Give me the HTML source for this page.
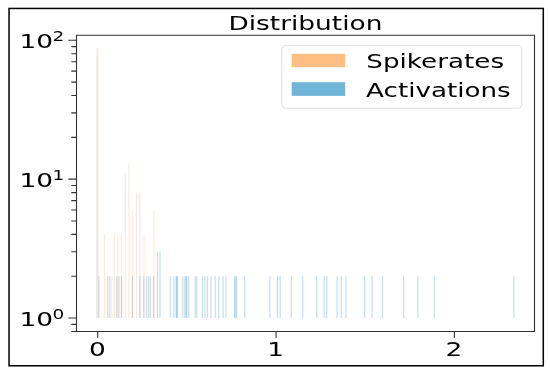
<!DOCTYPE html>
<html><head><meta charset="utf-8"><style>
html,body{margin:0;padding:0;background:#fff;}
svg{display:block;}
text{font-family:"DejaVu Sans","Liberation Sans",sans-serif;fill:#000;}
</style></head><body>
<svg width="550" height="374" viewBox="0 0 550 374">
<rect x="9.05" y="8.45" width="534.25" height="357.3" fill="none" stroke="#000" stroke-width="1.5"/>
<rect x="96.30" y="48.01" width="2.0" height="269.99" fill="rgb(240,195,140)" fill-opacity="0.3"/>
<rect x="96.3" y="55.28" width="2.0" height="262.72" fill="rgb(232,232,232)"/>
<rect x="111.20" y="276.20" width="1.2" height="41.80" fill="rgb(240,195,140)" fill-opacity="0.3"/>
<rect x="104.00" y="234.40" width="1.2" height="83.60" fill="rgb(245,190,140)" fill-opacity="0.3"/>
<rect x="113.80" y="234.40" width="1.2" height="83.60" fill="rgb(245,190,140)" fill-opacity="0.3"/>
<rect x="117.30" y="234.40" width="1.2" height="83.60" fill="rgb(245,190,140)" fill-opacity="0.3"/>
<rect x="120.80" y="234.40" width="1.2" height="83.60" fill="rgb(245,190,140)" fill-opacity="0.3"/>
<rect x="124.70" y="173.40" width="1.2" height="144.60" fill="rgb(245,190,140)" fill-opacity="0.3"/>
<rect x="128.30" y="163.33" width="1.2" height="154.67" fill="rgb(245,190,140)" fill-opacity="0.3"/>
<rect x="131.70" y="209.95" width="1.2" height="108.05" fill="rgb(245,190,140)" fill-opacity="0.3"/>
<rect x="135.90" y="192.61" width="1.2" height="125.39" fill="rgb(235,175,160)" fill-opacity="0.3"/>
<rect x="139.20" y="192.61" width="1.2" height="125.39" fill="rgb(235,175,160)" fill-opacity="0.3"/>
<rect x="143.40" y="234.40" width="1.2" height="83.60" fill="rgb(245,190,140)" fill-opacity="0.3"/>
<rect x="153.40" y="209.95" width="1.2" height="108.05" fill="rgb(245,190,140)" fill-opacity="0.3"/>
<rect x="98.20" y="276.20" width="1.2" height="41.80" fill="rgb(110,140,160)" fill-opacity="0.3"/>
<rect x="107.20" y="276.20" width="1.2" height="41.80" fill="rgb(110,140,160)" fill-opacity="0.3"/>
<rect x="109.20" y="276.20" width="1.2" height="41.80" fill="rgb(110,140,160)" fill-opacity="0.3"/>
<rect x="116.10" y="276.20" width="1.2" height="41.80" fill="rgb(110,140,160)" fill-opacity="0.3"/>
<rect x="118.30" y="276.20" width="1.2" height="41.80" fill="rgb(110,140,160)" fill-opacity="0.3"/>
<rect x="120.90" y="276.20" width="1.2" height="41.80" fill="rgb(110,140,160)" fill-opacity="0.3"/>
<rect x="132.00" y="276.20" width="1.2" height="41.80" fill="rgb(110,140,160)" fill-opacity="0.3"/>
<rect x="139.40" y="276.20" width="1.2" height="41.80" fill="rgb(110,140,160)" fill-opacity="0.3"/>
<rect x="143.20" y="276.20" width="1.2" height="41.80" fill="rgb(110,140,160)" fill-opacity="0.3"/>
<rect x="145.90" y="276.20" width="1.2" height="41.80" fill="rgb(110,140,160)" fill-opacity="0.3"/>
<rect x="147.90" y="276.20" width="1.2" height="41.80" fill="rgb(110,140,160)" fill-opacity="0.3"/>
<rect x="149.70" y="276.20" width="1.2" height="41.80" fill="rgb(110,140,160)" fill-opacity="0.3"/>
<rect x="152.90" y="276.20" width="1.2" height="41.80" fill="rgb(110,140,160)" fill-opacity="0.3"/>
<rect x="169.70" y="276.20" width="1.2" height="41.80" fill="rgb(65,145,195)" fill-opacity="0.3"/>
<rect x="173.30" y="276.20" width="1.2" height="41.80" fill="rgb(65,145,195)" fill-opacity="0.3"/>
<rect x="175.60" y="276.20" width="1.2" height="41.80" fill="rgb(65,145,195)" fill-opacity="0.3"/>
<rect x="176.80" y="276.20" width="1.2" height="41.80" fill="rgb(65,145,195)" fill-opacity="0.3"/>
<rect x="182.20" y="276.20" width="1.2" height="41.80" fill="rgb(65,145,195)" fill-opacity="0.3"/>
<rect x="184.20" y="276.20" width="1.2" height="41.80" fill="rgb(65,145,195)" fill-opacity="0.3"/>
<rect x="186.20" y="276.20" width="1.2" height="41.80" fill="rgb(65,145,195)" fill-opacity="0.3"/>
<rect x="188.10" y="276.20" width="1.2" height="41.80" fill="rgb(65,145,195)" fill-opacity="0.3"/>
<rect x="194.70" y="276.20" width="1.2" height="41.80" fill="rgb(65,145,195)" fill-opacity="0.3"/>
<rect x="196.20" y="276.20" width="1.2" height="41.80" fill="rgb(65,145,195)" fill-opacity="0.3"/>
<rect x="201.80" y="276.20" width="1.2" height="41.80" fill="rgb(65,145,195)" fill-opacity="0.3"/>
<rect x="204.40" y="276.20" width="1.2" height="41.80" fill="rgb(65,145,195)" fill-opacity="0.3"/>
<rect x="206.90" y="276.20" width="1.2" height="41.80" fill="rgb(65,145,195)" fill-opacity="0.3"/>
<rect x="210.40" y="276.20" width="1.2" height="41.80" fill="rgb(65,145,195)" fill-opacity="0.3"/>
<rect x="214.60" y="276.20" width="1.2" height="41.80" fill="rgb(65,145,195)" fill-opacity="0.3"/>
<rect x="218.20" y="276.20" width="1.2" height="41.80" fill="rgb(65,145,195)" fill-opacity="0.3"/>
<rect x="222.50" y="276.20" width="1.2" height="41.80" fill="rgb(65,145,195)" fill-opacity="0.3"/>
<rect x="225.40" y="276.20" width="1.2" height="41.80" fill="rgb(65,145,195)" fill-opacity="0.3"/>
<rect x="234.00" y="276.20" width="1.2" height="41.80" fill="rgb(65,145,195)" fill-opacity="0.3"/>
<rect x="236.00" y="276.20" width="1.2" height="41.80" fill="rgb(65,145,195)" fill-opacity="0.3"/>
<rect x="244.10" y="276.20" width="1.2" height="41.80" fill="rgb(65,145,195)" fill-opacity="0.3"/>
<rect x="269.30" y="276.20" width="1.2" height="41.80" fill="rgb(65,145,195)" fill-opacity="0.3"/>
<rect x="276.80" y="276.20" width="1.2" height="41.80" fill="rgb(65,145,195)" fill-opacity="0.3"/>
<rect x="279.60" y="276.20" width="1.2" height="41.80" fill="rgb(65,145,195)" fill-opacity="0.3"/>
<rect x="290.70" y="276.20" width="1.2" height="41.80" fill="rgb(65,145,195)" fill-opacity="0.3"/>
<rect x="302.20" y="276.20" width="1.2" height="41.80" fill="rgb(65,145,195)" fill-opacity="0.3"/>
<rect x="316.10" y="276.20" width="1.2" height="41.80" fill="rgb(65,145,195)" fill-opacity="0.3"/>
<rect x="323.60" y="276.20" width="1.2" height="41.80" fill="rgb(65,145,195)" fill-opacity="0.3"/>
<rect x="326.20" y="276.20" width="1.2" height="41.80" fill="rgb(65,145,195)" fill-opacity="0.3"/>
<rect x="336.50" y="276.20" width="1.2" height="41.80" fill="rgb(65,145,195)" fill-opacity="0.3"/>
<rect x="340.70" y="276.20" width="1.2" height="41.80" fill="rgb(65,145,195)" fill-opacity="0.3"/>
<rect x="345.40" y="276.20" width="1.2" height="41.80" fill="rgb(65,145,195)" fill-opacity="0.3"/>
<rect x="364.00" y="276.20" width="1.2" height="41.80" fill="rgb(65,145,195)" fill-opacity="0.3"/>
<rect x="371.50" y="276.20" width="1.2" height="41.80" fill="rgb(65,145,195)" fill-opacity="0.3"/>
<rect x="381.80" y="276.20" width="1.2" height="41.80" fill="rgb(65,145,195)" fill-opacity="0.3"/>
<rect x="403.00" y="276.20" width="1.2" height="41.80" fill="rgb(65,145,195)" fill-opacity="0.3"/>
<rect x="417.30" y="276.20" width="1.2" height="41.80" fill="rgb(65,145,195)" fill-opacity="0.3"/>
<rect x="433.70" y="276.20" width="1.2" height="41.80" fill="rgb(65,145,195)" fill-opacity="0.3"/>
<rect x="513.30" y="276.20" width="1.2" height="41.80" fill="rgb(65,145,195)" fill-opacity="0.3"/>
<rect x="156.90" y="251.75" width="1.2" height="66.25" fill="rgb(65,145,195)" fill-opacity="0.3"/>
<rect x="159.40" y="251.75" width="1.2" height="66.25" fill="rgb(65,145,195)" fill-opacity="0.3"/>
<rect x="175.90" y="276.20" width="1.6" height="41.80" fill="rgb(60,150,210)" fill-opacity="0.25"/>
<rect x="185.20" y="276.20" width="1.6" height="41.80" fill="rgb(60,150,210)" fill-opacity="0.25"/>
<rect x="234.80" y="276.20" width="1.6" height="41.80" fill="rgb(60,150,210)" fill-opacity="0.25"/>
<rect x="281.8" y="45.25" width="240.05" height="62.95" rx="4.5" ry="4" fill="#fff" fill-opacity="0.8" stroke="#e0e0e0" stroke-width="1.1"/>
<rect x="291.7" y="53.8" width="53.4" height="13.4" fill="#ffbe84"/>
<rect x="291.7" y="82.2" width="53.4" height="13.7" fill="#70b4d8"/>
<text transform="translate(366.30,68.40) scale(1.365,1)" font-size="19.2" text-anchor="start">Spikerates</text>
<text transform="translate(366.10,96.90) scale(1.363,1)" font-size="19.2" text-anchor="start">Activations</text>
<text transform="translate(305.40,30.10) scale(1.375,1)" font-size="19.2" text-anchor="middle">Distribution</text>
<path d="M76.5,331.5V35.2H534.5V331.5Z" fill="none" stroke="#333" stroke-width="1.1" stroke-linejoin="miter"/>
<path d="M71.3,331.46H76.5M71.3,324.35H76.5M68.3,318.00H76.5M71.3,276.20H76.5M71.3,251.75H76.5M71.3,234.40H76.5M71.3,220.95H76.5M71.3,209.95H76.5M71.3,200.66H76.5M71.3,192.61H76.5M71.3,185.50H76.5M68.3,179.15H76.5M71.3,137.35H76.5M71.3,112.90H76.5M71.3,95.55H76.5M71.3,82.10H76.5M71.3,71.10H76.5M71.3,61.81H76.5M71.3,53.76H76.5M71.3,46.65H76.5M68.3,40.30H76.5M97.70,331.5V337.9M276.05,331.5V337.9M454.40,331.5V337.9" stroke="#333" stroke-width="1.1" fill="none"/>
<text transform="translate(97.40,356.30) scale(1.375,1)" font-size="19.2" text-anchor="middle">0</text>
<text transform="translate(275.75,356.30) scale(1.375,1)" font-size="19.2" text-anchor="middle">1</text>
<text transform="translate(453.95,356.30) scale(1.375,1)" font-size="19.2" text-anchor="middle">2</text>
<text transform="translate(19.5,48.40) scale(1.375,1)" font-size="19.2">10<tspan font-size="13.44" dx="-0.4" dy="-7.4">2</tspan></text>
<text transform="translate(19.5,187.45) scale(1.375,1)" font-size="19.2">10<tspan font-size="13.44" dx="-0.4" dy="-7.4">1</tspan></text>
<text transform="translate(19.5,326.10) scale(1.375,1)" font-size="19.2">10<tspan font-size="13.44" dx="-0.4" dy="-7.4">0</tspan></text>
</svg>
</body></html>
